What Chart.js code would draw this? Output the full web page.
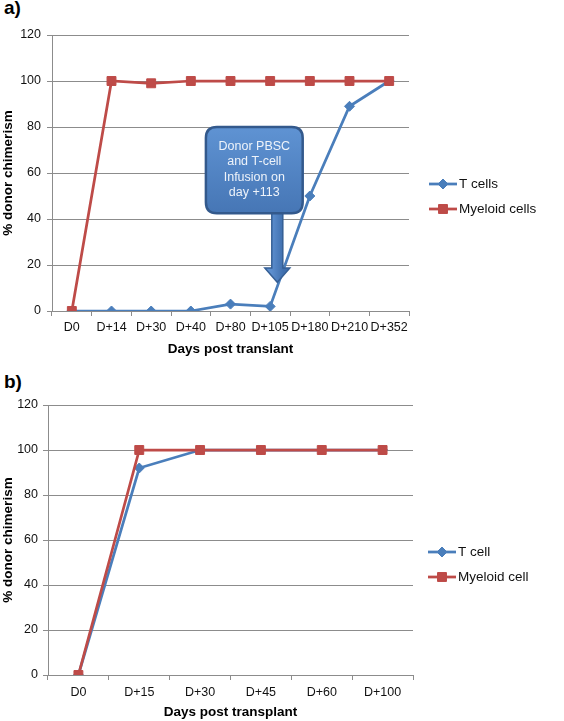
<!DOCTYPE html>
<html><head><meta charset="utf-8">
<script src="https://cdn.jsdelivr.net/npm/chart.js@4.4.1/dist/chart.umd.min.js"></script>
<style>
html,body{margin:0;padding:0;background:#fff;width:564px;height:721px;overflow:hidden;font-family:"Liberation Sans",Arial,sans-serif}
.panel{position:absolute;left:0;width:564px}
.lbl{position:absolute;font-weight:bold;font-size:19px;line-height:19px;color:#000}
canvas{display:block}
</style></head><body>
<div class="lbl" style="left:4px;top:-2px">a)</div>
<div class="panel" style="top:0;height:360px"><canvas id="ca" width="564" height="360"></canvas></div>
<div class="lbl" style="left:4px;top:372px">b)</div>
<div class="panel" style="top:360px;height:361px"><canvas id="cb" width="564" height="361"></canvas></div>
<script>
// ---- data ----
const labelsA = ['D0','D+14','D+30','D+40','D+80','D+105','D+180','D+210','D+352'];
const tCellsA = [0,0,0,0,3,2,50,89,100];
const myeloidA = [0,100,99,100,100,100,100,100,100];
const seriesNamesA = ['T cells','Myeloid cells'];

const labelsB = ['D0','D+15','D+30','D+45','D+60','D+100'];
const tCellB = [0,92,100,100,100,100];
const myeloidB = [0,100,100,100,100,100];
const seriesNamesB = ['T cell','Myeloid cell'];

const yTicks = [0,20,40,60,80,100,120];
const xTitleA = 'Days post translant';
const xTitleB = 'Days post transplant';
const yTitle = '% donor chimerism';
const calloutLines = ['Donor PBSC','and T-cell','Infusion on','day +113'];

// ---- styles ----
const BLUE = '#4a7ebb';
const RED = '#be4b48';
const GRID = '#8c8c8c';
const FONT = '"Liberation Sans", Arial, sans-serif';

function drawMarker(ctx, style, r, x, y, color){
  ctx.save();
  ctx.fillStyle = color; ctx.strokeStyle = color; ctx.lineWidth = 1;
  ctx.beginPath();
  if (style === 'rect') {
    const s = Math.SQRT1_2 * r;
    ctx.rect(x - s, y - s, 2*s, 2*s);
  } else {
    ctx.moveTo(x - r, y); ctx.lineTo(x, y - r); ctx.lineTo(x + r, y); ctx.lineTo(x, y + r); ctx.closePath();
  }
  ctx.fill(); ctx.stroke();
  ctx.restore();
}

const sideLegend = {
  id: 'sideLegend',
  afterDraw(chart, args, opts) {
    const ctx = chart.ctx;
    chart.data.datasets.forEach((ds, i) => {
      const x0 = opts.x, y = opts.y[i];
      ctx.save();
      ctx.strokeStyle = ds.borderColor; ctx.lineWidth = ds.borderWidth;
      ctx.beginPath(); ctx.moveTo(x0, y); ctx.lineTo(x0 + 28, y); ctx.stroke();
      drawMarker(ctx, ds.pointStyle, ds.pointRadius, x0 + 14, y, ds.borderColor);
      ctx.fillStyle = '#111';
      ctx.font = '13.5px ' + FONT;
      ctx.textBaseline = 'middle'; ctx.textAlign = 'left';
      ctx.fillText(ds.label, x0 + 30, y + 0.5);
      ctx.restore();
    });
  }
};

const callout = {
  id: 'callout',
  afterDatasetsDraw(chart, args, opts) {
    if (!opts || !opts.lines) return;
    const ctx = chart.ctx, xs = chart.scales.x, ys = chart.scales.y;
    const xi = v => { const i = Math.floor(v), f = v - i; const a = xs.getPixelForValue(i), b = xs.getPixelForValue(i+1); return a + (b - a) * f; };
    const L = xi(opts.boxX[0]), R = xi(opts.boxX[1]);
    const T = ys.getPixelForValue(opts.boxY[0]), B = ys.getPixelForValue(opts.boxY[1]);
    const cx = xi(opts.tipX);
    const headTop = ys.getPixelForValue(opts.headY), tip = ys.getPixelForValue(opts.tipY);
    ctx.save();
    // arrow
    const grad2 = ctx.createLinearGradient(cx - 6, 0, cx + 6, 0);
    grad2.addColorStop(0, '#5d8fcf'); grad2.addColorStop(1, '#3f6fae');
    ctx.fillStyle = grad2; ctx.strokeStyle = '#355f95'; ctx.lineWidth = 1.5;
    ctx.beginPath();
    ctx.moveTo(cx - 5.5, B - 2);
    ctx.lineTo(cx + 5.5, B - 2);
    ctx.lineTo(cx + 5.5, headTop);
    ctx.lineTo(cx + 12.5, headTop);
    ctx.lineTo(cx, tip);
    ctx.lineTo(cx - 12.5, headTop);
    ctx.lineTo(cx - 5.5, headTop);
    ctx.closePath();
    ctx.fill(); ctx.stroke();
    // box
    const r = 11;
    const grad = ctx.createLinearGradient(0, T, 0, B);
    grad.addColorStop(0, '#5f93d3'); grad.addColorStop(1, '#4676b5');
    ctx.fillStyle = grad; ctx.strokeStyle = '#33598c'; ctx.lineWidth = 2.5;
    ctx.beginPath();
    ctx.moveTo(L + r, T); ctx.lineTo(R - r, T); ctx.quadraticCurveTo(R, T, R, T + r);
    ctx.lineTo(R, B - r); ctx.quadraticCurveTo(R, B, R - r, B);
    ctx.lineTo(L + r, B); ctx.quadraticCurveTo(L, B, L, B - r);
    ctx.lineTo(L, T + r); ctx.quadraticCurveTo(L, T, L + r, T);
    ctx.closePath(); ctx.fill(); ctx.stroke();
    // text
    ctx.fillStyle = '#eef3fa';
    ctx.font = '12.5px ' + FONT;
    ctx.textAlign = 'center'; ctx.textBaseline = 'middle';
    const mx = (L + R) / 2, my = (T + B) / 2 - 0.5, lh = 15.3;
    opts.lines.forEach((s, i) => ctx.fillText(s, mx, my + (i - (opts.lines.length - 1) / 2) * lh));
    ctx.restore();
  }
};

function makeChart(id, labels, tData, mData, names, xTitle, d, extra) {
  return new Chart(document.getElementById(id), {
    type: 'line',
    data: {
      labels: labels,
      datasets: [
        { label: names[0], data: tData, borderColor: BLUE, backgroundColor: BLUE, borderWidth: 2.75,
          pointStyle: 'rectRot', pointRadius: 5, pointBorderWidth: 1, pointHoverRadius: 5, order: 2, tension: 0 },
        { label: names[1], data: mData, borderColor: RED, backgroundColor: RED, borderWidth: 2.75,
          pointStyle: 'rect', pointRadius: 6.3, pointBorderWidth: 1, pointHoverRadius: 6.3, order: 1, tension: 0 }
      ]
    },
    options: {
      responsive: false, animation: false, devicePixelRatio: 1,
      layout: { padding: { left: 0, top: d.top, right: d.right, bottom: 0 } },
      plugins: {
        legend: { display: false }, tooltip: { enabled: false },
        sideLegend: { x: d.legX, y: d.legY },
        callout: extra || {}
      },
      scales: {
        x: {
          offset: true,
          grid: { offset: true, drawOnChartArea: false, drawTicks: true, tickLength: 5, color: GRID, lineWidth: 1 },
          border: { display: true, color: GRID, width: 1 },
          ticks: { color: '#111', font: { family: FONT, size: 12.5 }, padding: d.xTickPad, maxRotation: 0, autoSkip: false },
          title: { display: true, text: xTitle, color: '#000', font: { family: FONT, size: 13.5, weight: 'bold' },
                   padding: { top: 0, bottom: d.xTitlePad } },
          afterFit: s => { s.height = d.xH; }
        },
        y: {
          min: yTicks[0], max: yTicks[yTicks.length - 1],
          afterBuildTicks: s => { s.ticks = yTicks.map(v => ({ value: v })); },
          grid: { drawTicks: true, tickLength: 5, color: GRID, lineWidth: 1 },
          border: { display: true, color: GRID, width: 1 },
          ticks: { color: '#111', font: { family: FONT, size: 12.5 }, padding: d.yTickPad },
          title: { display: true, text: yTitle, color: '#000', font: { family: FONT, size: 13.5, weight: 'bold' },
                   padding: { top: 0, bottom: 0 } },
          afterFit: s => { s.width = d.yW; }
        }
      }
    },
    plugins: [sideLegend, callout]
  });
}

makeChart('ca', labelsA, tCellsA, myeloidA, seriesNamesA, xTitleA,
  { top: 35, right: 155, yW: 52, xH: 49, xTickPad: 4, xTitlePad: 3, yTickPad: 6, legX: 429, legY: [184, 209] },
  { lines: calloutLines, boxX: [3.38, 5.82], boxY: [80, 42.5], tipX: 5.18, headY: 18.7, tipY: 12.5 });

makeChart('cb', labelsB, tCellB, myeloidB, seriesNamesB, xTitleB,
  { top: 45, right: 151, yW: 48, xH: 46, xTickPad: 5, xTitlePad: 1, yTickPad: 5, legX: 428, legY: [192, 217] });
</script>
</body></html>
